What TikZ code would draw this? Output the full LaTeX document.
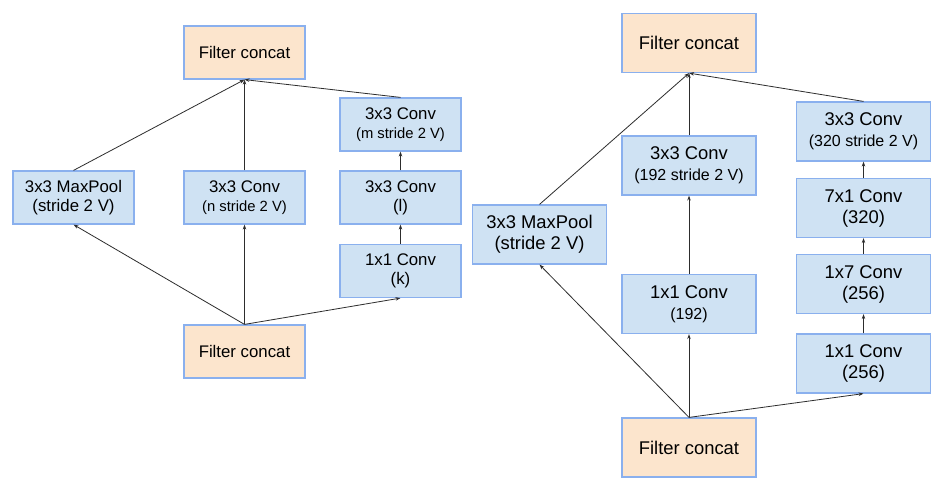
\documentclass[tikz,border=0pt]{standalone}
\usepackage{fontspec}
\setmainfont{Liberation Sans}
\usetikzlibrary{arrows.meta}

\definecolor{convfill}{RGB}{207,226,243}
\definecolor{catfill}{RGB}{252,229,205}
\definecolor{boxline}{RGB}{138,176,238}
\definecolor{arrowline}{RGB}{45,45,45}

\newcommand{\lsmall}{\fontsize{14.8}{17}\selectfont}
\newcommand{\rsmall}{\fontsize{16}{19}\selectfont}

\tikzset{
  lbox/.style={draw=boxline, line width=1.2pt, fill=convfill, inner sep=0pt,
    minimum width=121pt, minimum height=53pt, align=center,
    font=\fontsize{16.8}{19}\selectfont},
  rbox/.style={draw=boxline, line width=1.2pt, fill=convfill, inner sep=0pt,
    minimum width=134pt, minimum height=59pt, align=center,
    font=\fontsize{18.4}{21}\selectfont},
  concat/.style={fill=catfill},
  flow/.style={draw=arrowline, line width=0.8pt, -{Stealth[length=5pt,width=3.5pt]}}
}

\begin{document}
\begin{tikzpicture}[x=1pt,y=-1pt]
  \useasboundingbox[fill=white] (0,0) rectangle (947,485);

  % left module
  \node[lbox,concat] (lctop) at (244.5,52.5) {Filter concat};
  \node[lbox] (lpool) at (73.5,197.5) {3x3 MaxPool\\(stride 2 V)};
  \node[lbox] (lconvn) at (244.5,197.5) {3x3 Conv\\{\lsmall (n stride 2 V)}};
  \node[lbox] (lconvm) at (400.5,124.5) {3x3 Conv\\{\lsmall (m stride 2 V)}};
  \node[lbox] (lconvl) at (400.5,197.5) {3x3 Conv\\(l)};
  \node[lbox] (lconvk) at (400.5,271) {1x1 Conv\\(k)};
  \node[lbox,concat] (lcbot) at (244.5,351.5) {Filter concat};

  \draw[flow] (lcbot.north) -- (lpool.south);
  \draw[flow] (lcbot.north) -- (lconvn.south);
  \draw[flow] (lcbot.north) -- (lconvk.south);
  \draw[flow] (lconvk) -- (lconvl);
  \draw[flow] (lconvl) -- (lconvm);
  \draw[flow] (lpool.north) -- (lctop.south);
  \draw[flow] (lconvn.north) -- (lctop.south);
  \draw[flow] (lconvm.north) -- (lctop.south);

  % right module
  \node[rbox,concat] (rctop) at (689,43) {Filter concat};
  \node[rbox] (rpool) at (539.5,234.5) {3x3 MaxPool\\(stride 2 V)};
  \node[rbox] (rconva) at (689,165.5) {3x3 Conv\\{\rsmall (192 stride 2 V)}};
  \node[rbox] (rconvb) at (689,304) {1x1 Conv\\{\rsmall (192)}};
  \node[rbox] (rconvc) at (863.5,131.5) {3x3 Conv\\{\rsmall (320 stride 2 V)}};
  \node[rbox] (rconvd) at (863.5,208) {7x1 Conv\\(320)};
  \node[rbox] (rconve) at (863.5,284) {1x7 Conv\\(256)};
  \node[rbox] (rconvf) at (863.5,363.5) {1x1 Conv\\(256)};
  \node[rbox,concat] (rcbot) at (689,447.5) {Filter concat};

  \draw[flow] (rcbot.north) -- (rpool.south);
  \draw[flow] (rcbot.north) -- (rconvb.south);
  \draw[flow] (rcbot.north) -- (rconvf.south);
  \draw[flow] (rconvb) -- (rconva);
  \draw[flow] (rconvf) -- (rconve);
  \draw[flow] (rconve) -- (rconvd);
  \draw[flow] (rconvd) -- (rconvc);
  \draw[flow] (rpool.north) -- (rctop.south);
  \draw[flow] (rconva.north) -- (rctop.south);
  \draw[flow] (rconvc.north) -- (rctop.south);
\end{tikzpicture}
\end{document}
